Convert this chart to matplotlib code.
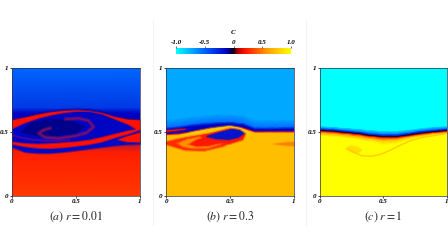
import numpy as np
import matplotlib.pyplot as plt
from matplotlib.colors import LinearSegmentedColormap, Normalize

plt.rcParams['mathtext.fontset'] = 'stix'
plt.rcParams['font.family'] = ['Liberation Serif', 'DejaVu Serif']

# Colour scale of C
cmap = LinearSegmentedColormap.from_list('c_map', [
    (0.0, '#00ffff'), (0.125, '#00b0ff'), (0.25, '#0060ff'), (0.44, '#0000c0'),
    (0.5, '#000010'), (0.53, '#a00000'), (0.6, '#ff1000'), (0.8, '#ffa000'), (1.0, '#ffff00')])
norm = Normalize(-1, 1)

xs = [0, .1, .2, .3, .4, .5, .6, .7, .8, .9, 1]

# Panel (a) r = 0.01
a_bg_y = [0, .34, .60, .65, .69, 1]
a_bg_c = [.31, .24, -.12, -.14, -.34, -.52]
a_red_top = [.594, .615, .638, .656, .667, .672, .667, .651, .62, .60, .594]
a_blue_top = [.60, .625, .65, .667, .678, .685, .682, .665, .63, .605, .60]
a_streak_low = [.385, .347, .339, .339, .347, .36, .372, .385, .398, .406, .41]
a_streak_up = [.402, .383, .372, .37, .376, .387, .40, .42, .452, .48, .515]
a_eye_x = [0, .1, .2, .3, .4, .5, .6, .7, .8, .9, .96]
a_eye_top = [.525, .57, .605, .63, .648, .66, .66, .64, .60, .56, .527]
a_eye_low = [.43, .418, .414, .418, .425, .432, .445, .466, .492, .516, .527]
a_lobe_x = [.83, .9, 1]
a_lobe_up = [.443, .469, .497]
a_lobe_low = [.443, .427, .424]
a_arm_x = [.42, .52, .6, .64, .586, .495, .365, .26, .21, .25, .3]
a_arm_y = [.60, .607, .589, .54, .495, .469, .45, .458, .49, .516, .53]
a_ring_x = [0, .08, .16, .3, .45]
a_ring_y = [.475, .455, .44, .43, .435]
a_core_x = [.08, .2, .35, .5, .56, .45, .3, .15, .08]
a_core_y = [.50, .47, .47, .49, .54, .59, .60, .57, .50]

# Panel (b) r = 0.3
b_levels = [
    [0, 0, 0, 0, 0, 0, 0, 0, 0, 0, 0],
    [.475, .48, .495, .512, .525, .535, .525, .495, .495, .495, .495],
    [.482, .487, .502, .519, .532, .542, .532, .502, .503, .503, .503],
    [.49, .497, .512, .53, .543, .552, .542, .512, .513, .513, .513],
    [.52, .53, .545, .555, .562, .565, .555, .52, .52, .522, .525],
    [.54, .55, .565, .575, .582, .585, .575, .54, .54, .542, .545],
    [.60, .61, .625, .635, .642, .645, .635, .60, .60, .60, .60],
    [1, 1, 1, 1, 1, 1, 1, 1, 1, 1, 1]]
b_values = [.72, .72, .2, -.13, -.13, -.55, -.72, -.72]
b_strip_x = [0, .07, .15]
b_strip_low = [.505, .513, .525]
b_strip_up = [.516, .522, .528]
b_rim_x = [.1, .2, .35, .5, .58, .64, .66, .6, .5, .3]
b_rim_y = [.455, .495, .525, .545, .53, .50, .48, .45, .43, .43]
b_ring_x = [0, .08, .18, .3, .4, .5, .55, .45, .3, .15, .05, 0]
b_ring_y = [.42, .44, .46, .48, .49, .48, .44, .39, .355, .36, .39, .405]
b_inner_x = [.1, .17, .25, .35, .46, .42, .32, .2, .13]
b_inner_y = [.41, .44, .455, .46, .44, .405, .375, .375, .39]
b_core_x = [.19, .24, .3, .4, .47, .42, .33, .24]
b_core_y = [.405, .435, .455, .46, .44, .415, .393, .39]
b_halo_x = [.28, .38, .5, .57, .62, .6, .5, .4, .3]
b_halo_y = [.465, .495, .525, .515, .48, .44, .41, .42, .44]
b_blob_x = [.32, .42, .52, .58, .61, .57, .495, .4]
b_blob_y = [.465, .495, .52, .51, .49, .46, .443, .447]
b_faint_x = [.84, .92, 1]
b_faint_up = [.41, .42, .425]
b_faint_low = [.41, .40, .395]

# Panel (c) r = 1
c_levels = [
    [0, 0, 0, 0, 0, 0, 0, 0, 0, 0, 0],
    [.47, .465, .455, .445, .425, .40, .41, .44, .46, .475, .485],
    [.492, .487, .477, .465, .45, .437, .442, .46, .475, .488, .495],
    [.507, .502, .492, .482, .467, .458, .458, .472, .487, .498, .507],
    [.515, .51, .50, .49, .475, .467, .467, .48, .495, .505, .515],
    [.522, .517, .507, .497, .482, .474, .474, .487, .502, .512, .522],
    [.533, .528, .518, .508, .495, .488, .488, .50, .515, .525, .533],
    [.55, .545, .537, .53, .52, .512, .512, .522, .535, .545, .55],
    [1, 1, 1, 1, 1, 1, 1, 1, 1, 1, 1]]
c_values = [1, 1, .72, .2, 0, -.25, -.6, -1, -1]
c_streak_x = [.22, .27, .33, .4, .48, .56, .64, .72, .82, .92, 1]
c_streak_y = [.37, .34, .315, .31, .325, .36, .40, .435, .46, .475, .49]
c_line_x = [0, .1, .2, .3, .38]
c_line_y = [.482, .478, .47, .455, .44]
c_blob_x = [.21, .24, .29, .33, .30, .25, .21]
c_blob_y = [.37, .39, .385, .36, .335, .345, .37]

panels = [(12, 'a', '0.01'), (166, 'b', '0.3'), (319.5, 'c', '1')]
cbar_ticks = [-1.0, -0.5, 0, 0.5, 1.0]


def col(v):
    return cmap(norm(v))


def layers(ax, levels, values):
    Y = np.array(levels)
    X = np.tile(xs, (len(levels), 1))
    C = np.tile(np.array(values)[:, None], (1, len(xs)))
    ax.pcolormesh(X, Y, C, shading='gouraud', cmap=cmap, norm=norm)


# soft halo first, then the solid shape, the target looks blurred
def band(ax, x, low, up, v, alpha=1.0):
    ax.fill_between(x, low, up, color=col(v), lw=1.6, alpha=alpha * .35)
    ax.fill_between(x, low, up, color=col(v), lw=0, alpha=alpha)


def blob(ax, x, y, c, alpha=1.0):
    ax.fill(x, y, color=c, lw=2.2, alpha=alpha * .35)
    ax.fill(x, y, color=c, lw=0.3, alpha=alpha)


fig = plt.figure(figsize=(4.48, 2.52), dpi=100)
axes = []
for left, tag, r in panels:
    ax = fig.add_axes([left / 448, 1 - 196 / 252, 127.5 / 448, 128 / 252])
    axes.append(ax)

# (a)
ax = axes[0]
ax.pcolormesh([0, 1], a_bg_y, np.column_stack([a_bg_c, a_bg_c]), shading='gouraud', cmap=cmap, norm=norm)
band(ax, xs, a_streak_low, a_blue_top, -.1, .6)
band(ax, xs, a_streak_low, a_red_top, .2)
band(ax, xs, a_streak_low, a_streak_up, -.16)
band(ax, a_eye_x, a_eye_low, a_eye_top, -.14)
band(ax, a_lobe_x, a_lobe_low, a_lobe_up, .2)
blob(ax, a_core_x, a_core_y, col(-.06), .5)
ax.plot(a_arm_x, a_arm_y, color='#701070', lw=3, alpha=.5, solid_capstyle='round')
ax.plot(a_arm_x, a_arm_y, color='#c01040', lw=1.2, alpha=.5, solid_capstyle='round')
ax.plot(a_ring_x, a_ring_y, color='#6a1090', lw=1.6, alpha=.5)

# (b)
ax = axes[1]
layers(ax, b_levels, b_values)
band(ax, b_strip_x, b_strip_low, b_strip_up, .2)
blob(ax, b_rim_x, b_rim_y, col(.78))
blob(ax, b_ring_x, b_ring_y, col(.28))
blob(ax, b_inner_x, b_inner_y, col(.55))
blob(ax, b_core_x, b_core_y, col(.22))
blob(ax, b_halo_x, b_halo_y, col(.22))
blob(ax, b_blob_x, b_blob_y, col(-.2))
band(ax, b_faint_x, b_faint_low, b_faint_up, .45, .6)

# (c)
ax = axes[2]
layers(ax, c_levels, c_values)
ax.plot(c_streak_x, c_streak_y, color='#ffc400', lw=1.0, alpha=.85)
ax.plot(c_line_x, c_line_y, color='#ffc400', lw=0.8, alpha=.85)
blob(ax, c_blob_x, c_blob_y, '#ffd000', .55)

for ax, (left, tag, r) in zip(axes, panels):
    ax.set_xlim(0, 1)
    ax.set_ylim(0, 1)
    ax.set_xticks([0, .5, 1])
    ax.set_yticks([0, .5, 1])
    ax.set_xticklabels(['0', '0.5', '1'], fontsize=5, fontstyle='italic', fontweight='bold')
    ax.set_yticklabels(['0', '0.5', '1'], fontsize=5, fontstyle='italic', fontweight='bold')
    ax.tick_params(length=1.5, width=0.5, pad=1)
    for s in ax.spines.values():
        s.set_linewidth(0.5)
        s.set_color('#303040')
    ax.text(.5, -.165, r'$(\mathit{%s})\ r = %s$' % (tag, r), transform=ax.transAxes,
            ha='center', va='center', fontsize=8.5, color='#222222')

# colour bar
cax = fig.add_axes([176 / 448, 1 - 54 / 252, 115 / 448, 6 / 252])
sm = plt.cm.ScalarMappable(norm=norm, cmap=cmap)
cb = fig.colorbar(sm, cax=cax, orientation='horizontal')
cb.set_ticks(cbar_ticks)
cb.set_ticklabels(['-1.0', '-0.5', '0', '0.5', '1.0'], fontsize=5, fontstyle='italic', fontweight='bold')
cb.outline.set_visible(False)
cax.xaxis.set_ticks_position('top')
cax.tick_params(length=1.5, width=0.4, pad=0.5)
fig.text(233.5 / 448, 1 - 33 / 252, 'C', fontsize=5, fontstyle='italic', fontweight='bold', ha='center', va='center')

# faint panel separators
for xp in [153, 306]:
    fig.add_artist(plt.Line2D([xp / 448, xp / 448], [1 - 225 / 252, 1 - 20 / 252], color='#f3f3f3', lw=0.8))

fig.savefig('out.png', dpi=100)
